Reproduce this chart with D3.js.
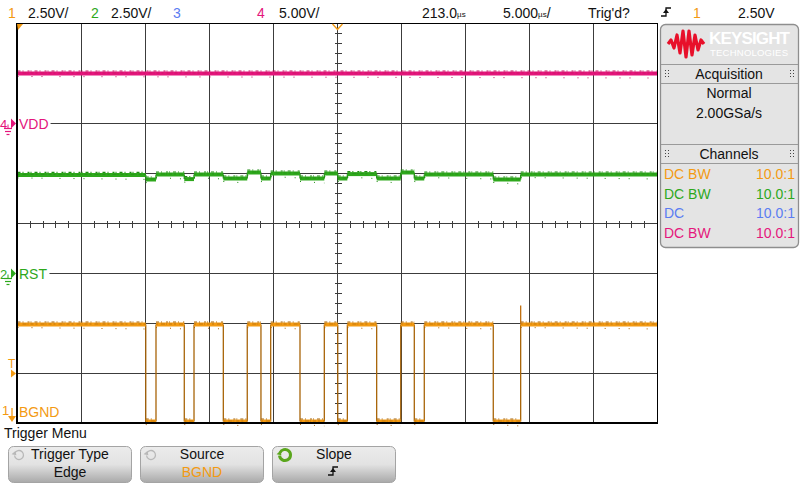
<!DOCTYPE html>
<html><head><meta charset="utf-8">
<script src="https://cdn.jsdelivr.net/npm/d3@7"></script>
<style>
html,body{margin:0;padding:0;background:#fff;overflow:hidden;}
svg{display:block;font-family:"Liberation Sans",Arial,sans-serif;}
</style></head><body>
<svg id="c" width="800" height="484"></svg>
<script>
// ---------- data ----------
const timeCenter = 213.0;      // µs
const timePerDiv = 5.0;        // µs/div
const chVoltsPerDiv = [2.5, 2.5, null, 5.0];
const chGroundDiv = [0, 3, null, 6];   // ground position, divisions from bottom
const chColors = ["#f39a12", "#2ea81c", "#5b7cf2", "#e4167c"];
const chLabels = ["BGND", "RST", "", "VDD"];
const chCoupling = ["DC BW", "DC BW", "DC", "DC BW"];
const chProbe = ["10.0:1", "10.0:1", "10.0:1", "10.0:1"];

// ch1 (BGND) step trace: time of each level change (µs) and level (V)
const ch1Times = [188, 198.02, 198.82, 201.03, 201.79, 204.08, 205.95, 207.02, 207.78, 210.07, 211.97, 213.02, 213.77, 216.06, 217.94, 219.0, 219.78, 225.17, 227.31];
const ch1Volts = [4.95, 0.1, 4.95, 0.1, 4.95, 0.1, 4.95, 0.1, 4.95, 0.1, 4.95, 0.1, 4.95, 0.1, 4.95, 0.1, 4.95, 0.1, 4.95];
const ch1Spikes = [[227.31, 5.9]];
// ch2 (RST) levels, same segment boundaries
const ch2Times = ch1Times;
const ch2Volts = [4.93, 4.70, 4.95, 4.72, 4.95, 4.75, 5.05, 4.75, 5.0, 4.75, 5.0, 4.75, 4.97, 4.75, 5.05, 4.75, 4.95, 4.70, 4.95];
// ch4 (VDD)
const ch4Times = [188];
const ch4Volts = [5.0];

// ---------- layout ----------
const svg = d3.select("#c");
const L = 17.5, R = 657.5, T = 23.5, B = 423.5;
const x = d3.scaleLinear().domain([timeCenter - 5 * timePerDiv, timeCenter + 5 * timePerDiv]).range([L, R]);
const yDiv = d3.scaleLinear().domain([-4, 4]).range([B, T]);
function chY(i) {
  const v = chVoltsPerDiv[i], g = chGroundDiv[i];
  return d3.scaleLinear().domain([-g * v, (8 - g) * v]).range([B, T]);
}
const y1 = chY(0), y2 = chY(1), y4 = chY(3);

svg.append("rect").attr("width", 800).attr("height", 484).attr("fill", "#fff");

// ---------- grid ----------
const grid = svg.append("g").attr("shape-rendering", "crispEdges");
const timeTicks = d3.range(-5, 6).map(k => timeCenter + k * timePerDiv);
grid.selectAll(".vg").data(timeTicks).join("line")
  .attr("x1", d => x(d)).attr("x2", d => x(d)).attr("y1", T).attr("y2", B)
  .attr("stroke", "#3c3c3c").attr("stroke-width", 1);
grid.selectAll(".hg").data(d3.range(-4, 5)).join("line")
  .attr("x1", L).attr("x2", R).attr("y1", d => yDiv(d)).attr("y2", d => yDiv(d))
  .attr("stroke", "#3c3c3c").attr("stroke-width", 1);
grid.selectAll(".vt").data(d3.range(-20, 21).filter(d => d % 5 !== 0)).join("line")
  .attr("x1", x(timeCenter) - 3).attr("x2", x(timeCenter) + 4)
  .attr("y1", d => yDiv(d / 5)).attr("y2", d => yDiv(d / 5))
  .attr("stroke", "#3c3c3c");
grid.selectAll(".ht").data(d3.range(-25, 26).filter(d => d % 5 !== 0)).join("line")
  .attr("y1", yDiv(0) - 3).attr("y2", yDiv(0) + 4)
  .attr("x1", d => x(timeCenter + d / 5 * timePerDiv)).attr("x2", d => x(timeCenter + d / 5 * timePerDiv))
  .attr("stroke", "#3c3c3c");

// ---------- traces ----------
function segs(times, volts) {
  return times.map((t, i) => ({ t0: t, t1: i < times.length - 1 ? times[i + 1] : x.domain()[1], v: volts[i] }));
}
function drawTrace(times, volts, y, color, dark, w) {
  const g = svg.append("g");
  const s = segs(times, volts);
  g.selectAll(".e").data(s.slice(1).map((d, i) => ({ t: d.t0, a: s[i].v, b: d.v }))).join("line")
    .attr("x1", d => x(d.t)).attr("x2", d => x(d.t))
    .attr("y1", d => y(d.a)).attr("y2", d => y(d.b))
    .attr("stroke", dark).attr("stroke-width", 1.3);
  g.selectAll(".h").data(s).join("line")
    .attr("x1", d => x(d.t0)).attr("x2", d => x(d.t1))
    .attr("y1", d => y(d.v)).attr("y2", d => y(d.v))
    .attr("stroke", color).attr("stroke-width", w);
  g.selectAll(".n1").data(s).join("line")
    .attr("x1", d => x(d.t0)).attr("x2", d => x(d.t1))
    .attr("y1", d => y(d.v) - w / 2 - 0.5).attr("y2", d => y(d.v) - w / 2 - 0.5)
    .attr("stroke", dark).attr("stroke-width", 1.2).attr("stroke-dasharray", "3 2 1 4 2 1 1 3");
  g.selectAll(".n2").data(s).join("line")
    .attr("x1", d => x(d.t0)).attr("x2", d => x(d.t1))
    .attr("y1", d => y(d.v) - 0.5).attr("y2", d => y(d.v) - 0.5)
    .attr("stroke", dark).attr("stroke-width", 1).attr("stroke-dasharray", "2 3 4 1 1 2 3 2").attr("opacity", 0.6);
  g.selectAll(".n3").data(s).join("line")
    .attr("x1", d => x(d.t0)).attr("x2", d => x(d.t1))
    .attr("y1", d => y(d.v) + w / 2 + 1).attr("y2", d => y(d.v) + w / 2 + 2.5)
    .attr("stroke", dark).attr("stroke-width", 1).attr("stroke-dasharray", "1 13 1 9 1 17");
  return g;
}
drawTrace(ch4Times, ch4Volts, y4, chColors[3], "#c4105f", 4);
drawTrace(ch2Times, ch2Volts, y2, chColors[1], "#1f8c12", 4);
const g1 = drawTrace(ch1Times, ch1Volts, y1, chColors[0], "#a86408", 4);
g1.selectAll(".sp").data(ch1Spikes).join("line")
  .attr("x1", d => x(d[0])).attr("x2", d => x(d[0]))
  .attr("y1", d => y1(d[1])).attr("y2", y1(4.95))
  .attr("stroke", "#c07010").attr("stroke-width", 1.3);

// ---------- plot border ----------
const bd = svg.append("g").attr("shape-rendering", "crispEdges");
bd.append("line").attr("x1", 16).attr("x2", 658).attr("y1", 23.5).attr("y2", 23.5).attr("stroke", "#000").attr("stroke-width", 1);
bd.append("line").attr("x1", 16).attr("x2", 658).attr("y1", 423).attr("y2", 423).attr("stroke", "#000").attr("stroke-width", 2);
bd.append("line").attr("x1", 17).attr("x2", 17).attr("y1", 23).attr("y2", 424).attr("stroke", "#000").attr("stroke-width", 2);
bd.append("line").attr("x1", 657.5).attr("x2", 657.5).attr("y1", 23).attr("y2", 424).attr("stroke", "#000").attr("stroke-width", 1);

svg.append("path").attr("d", "M17,24 L23,24 L18,30 Z").attr("fill", chColors[0]);
svg.append("path").attr("d", `M${x(timeCenter) - 5},24 L${x(timeCenter)},29.5 L${x(timeCenter) + 5},24`)
  .attr("fill", "none").attr("stroke", chColors[0]).attr("stroke-width", 1.3);

// ---------- top status bar ----------
const topG = svg.append("g").attr("font-size", 14);
const topItems = [
  { x: 8, t: "1", c: chColors[0] }, { x: 28, t: "2.50V/", c: "#111" },
  { x: 91, t: "2", c: chColors[1] }, { x: 111, t: "2.50V/", c: "#111" },
  { x: 173, t: "3", c: chColors[2] },
  { x: 257, t: "4", c: chColors[3] }, { x: 279, t: "5.00V/", c: "#111" },
  { x: 588, t: "Trig'd?", c: "#111" },
  { x: 693, t: "1", c: chColors[0] }, { x: 738, t: "2.50V", c: "#111" }
];
topG.selectAll("text").data(topItems).join("text")
  .attr("x", d => d.x).attr("y", 18).attr("fill", d => d.c).text(d => d.t);
function usText(xp, main, tail) {
  const t = topG.append("text").attr("x", xp).attr("y", 18).attr("fill", "#111");
  t.append("tspan").text(main);
  t.append("tspan").attr("font-size", 8).attr("dy", -1).text("µs");
  if (tail) t.append("tspan").attr("dy", 1).text(tail);
}
usText(422, "213.0", "");
usText(503, "5.000", "/");
function slope(g, cx, cy, col) {
  g.append("path").attr("d", `M${cx - 5},${cy + 4} H${cx} V${cy - 4} H${cx + 5}`)
    .attr("fill", "none").attr("stroke", col).attr("stroke-width", 1.3);
  g.append("path").attr("d", `M${cx - 3},${cy + 1} L${cx},${cy - 3} L${cx + 3},${cy + 1} Z`).attr("fill", col);
}
slope(svg, 666, 12, "#111");

// ---------- channel markers at left ----------
function groundSym(g, cx, yTop, col) {
  g.append("line").attr("x1", cx).attr("x2", cx).attr("y1", yTop).attr("y2", yTop + 4).attr("stroke", col);
  [[4, 0], [3, 3], [1.5, 6]].forEach(([hw, dy]) =>
    g.append("line").attr("x1", cx - hw).attr("x2", cx + hw).attr("y1", yTop + 4 + dy).attr("y2", yTop + 4 + dy).attr("stroke", col).attr("stroke-width", 1.2));
}
const mk = svg.append("g");
function labelBox(xx, yy, txt, col) {
  const t = mk.append("text").attr("x", xx).attr("y", yy).attr("font-size", 14).attr("fill", col).text(txt);
  const bb = t.node().getBBox();
  mk.insert("rect", () => t.node()).attr("x", bb.x - 1).attr("y", bb.y + 1).attr("width", bb.width + 3).attr("height", bb.height - 2).attr("fill", "#fff");
}
[[3, "4"], [1, "2"]].forEach(([i, n]) => {
  const yy = (i === 3 ? y4 : y2)(0);
  mk.append("text").attr("x", 0).attr("y", yy + 5).attr("font-size", 13).attr("fill", chColors[i]).text(n);
  mk.append("path").attr("d", `M11,${yy - 5} L16,${yy} L11,${yy + 5} Z`).attr("fill", chColors[i]);
  groundSym(mk, 8, yy + 1, chColors[i]);
  labelBox(19, yy + 5, chLabels[i], chColors[i]);
});
const trigY = y1(2.5);
mk.append("text").attr("x", 8).attr("y", trigY - 6).attr("font-size", 12).attr("fill", chColors[0]).text("T");
mk.append("path").attr("d", `M11,${trigY - 4} L16,${trigY} L11,${trigY + 4} Z`).attr("fill", chColors[0]);
mk.append("text").attr("x", 2).attr("y", 415).attr("font-size", 13).attr("fill", chColors[0]).text("1");
mk.append("line").attr("x1", 12).attr("x2", 12).attr("y1", 408).attr("y2", 418).attr("stroke", chColors[0]).attr("stroke-width", 1.3);
mk.append("path").attr("d", "M8,416 L16,416 L12,422 Z").attr("fill", chColors[0]);
mk.append("text").attr("x", 19).attr("y", 417).attr("font-size", 14).attr("fill", chColors[0]).text(chLabels[0]);

// ---------- right panel ----------
const p = svg.append("g");
p.append("rect").attr("x", 660.5).attr("y", 24.5).attr("width", 138).attr("height", 223).attr("rx", 5)
  .attr("fill", "#e4e4e4").attr("stroke", "#8e8e8e").attr("stroke-width", 1.3);
[64.5, 83.5, 144.5, 163.5].forEach(yy =>
  p.append("line").attr("x1", 661).attr("x2", 798).attr("y1", yy).attr("y2", yy).attr("stroke", "#9a9a9a").attr("shape-rendering", "crispEdges"));
p.append("path").attr("d", "M668,44 L671,40 L674,48 L677,35 L680,53 L683,31 L686,57 L689,31 L692,55 L695,35 L698,50 L701,40 L704,44")
  .attr("fill", "none").attr("stroke", "#e8102a").attr("stroke-width", 3.2).attr("stroke-linejoin", "round");
p.append("text").attr("x", 709).attr("y", 44).attr("font-size", 17).attr("font-weight", "bold").attr("fill", "#fff").attr("textLength", 81).text("KEYSIGHT");
p.append("text").attr("x", 710).attr("y", 55.5).attr("font-size", 9.5).attr("fill", "#fff").attr("textLength", 78).text("TECHNOLOGIES");
function grip(gx, gy) {
  for (let c = 0; c < 2; c++) for (let r = 0; r < 3; r++)
    p.append("rect").attr("x", gx + c * 3).attr("y", gy + r * 3).attr("width", 1).attr("height", 1).attr("fill", "#444");
}
grip(665, 70); grip(790, 70); grip(665, 150); grip(790, 150);
const pc = 729;
p.append("text").attr("x", pc).attr("y", 79).attr("text-anchor", "middle").attr("font-size", 14).attr("fill", "#111").text("Acquisition");
p.append("text").attr("x", pc).attr("y", 98).attr("text-anchor", "middle").attr("font-size", 14).attr("fill", "#111").text("Normal");
p.append("text").attr("x", pc).attr("y", 118).attr("text-anchor", "middle").attr("font-size", 14).attr("fill", "#111").text("2.00GSa/s");
p.append("text").attr("x", pc).attr("y", 159).attr("text-anchor", "middle").attr("font-size", 14).attr("fill", "#111").text("Channels");
p.selectAll(".cc").data(chCoupling).join("text")
  .attr("x", 664).attr("y", (d, i) => 179 + i * 19.7).attr("font-size", 14).attr("fill", (d, i) => chColors[i]).text(d => d);
p.selectAll(".cp").data(chProbe).join("text")
  .attr("x", 795).attr("text-anchor", "end").attr("y", (d, i) => 179 + i * 19.7).attr("font-size", 14).attr("fill", (d, i) => chColors[i]).text(d => d);

// ---------- bottom softkeys ----------
svg.append("text").attr("x", 4).attr("y", 438).attr("font-size", 14).attr("fill", "#111").text("Trigger Menu");
const defs = svg.append("defs");
const gr = defs.append("linearGradient").attr("id", "btn").attr("x1", 0).attr("x2", 0).attr("y1", 0).attr("y2", 1);
gr.append("stop").attr("offset", "0").attr("stop-color", "#ececec");
gr.append("stop").attr("offset", "0.5").attr("stop-color", "#e2e2e2");
gr.append("stop").attr("offset", "1").attr("stop-color", "#a9a9a9");
const buttons = [
  { x: 8, top: "Trigger Type", bot: "Edge", botColor: "#111", icon: "#b8b8b8" },
  { x: 140, top: "Source", bot: "BGND", botColor: chColors[0], icon: "#b8b8b8" },
  { x: 272, top: "Slope", bot: null, botColor: "#111", icon: "#5aa61c" }
];
buttons.forEach(b => {
  const g = svg.append("g");
  g.append("rect").attr("x", b.x + 0.5).attr("y", 446.5).attr("width", 123).attr("height", 36).attr("rx", 5)
    .attr("fill", "url(#btn)").attr("stroke", "#a4a4a4");
  g.append("text").attr("x", b.x + 62).attr("y", 459).attr("text-anchor", "middle").attr("font-size", 14).attr("fill", "#111").text(b.top);
  if (b.bot) g.append("text").attr("x", b.x + 62).attr("y", 477).attr("text-anchor", "middle").attr("font-size", 14).attr("fill", b.botColor).text(b.bot);
  const green = b.icon !== "#b8b8b8";
  const cx = b.x + (green ? 13 : 11), cy = 455, r = green ? 5.5 : 4.5;
  g.append("path").attr("d", d3.arc()({ innerRadius: r, outerRadius: r, startAngle: -1.2, endAngle: 4.6 }))
    .attr("transform", `translate(${cx},${cy})`).attr("fill", "none").attr("stroke", b.icon).attr("stroke-width", green ? 3 : 1.3);
  g.append("path").attr("d", `M${cx - r - 3},${cy - 3} L${cx - r + 2},${cy - 3} L${cx - r},${cy + 1} Z`)
    .attr("transform", `rotate(-40 ${cx - r} ${cy - 2})`).attr("fill", b.icon);
});
slope(svg, 333, 471, "#111");
</script>
</body></html>
